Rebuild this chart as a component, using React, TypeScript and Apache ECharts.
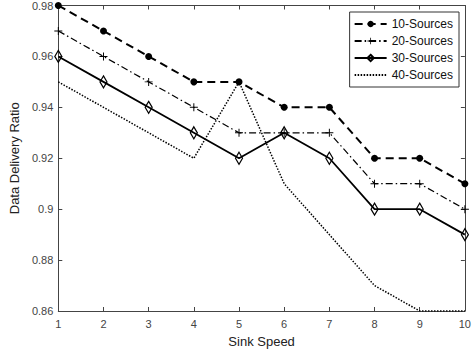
import React, { useEffect, useRef } from "react";
import * as echarts from "echarts";

const sinkSpeed = [1, 2, 3, 4, 5, 6, 7, 8, 9, 10];
const seriesNames = ["10-Sources", "20-Sources", "30-Sources", "40-Sources"];
const src10 = [0.98, 0.97, 0.96, 0.95, 0.95, 0.94, 0.94, 0.92, 0.92, 0.91];
const src20 = [0.97, 0.96, 0.95, 0.94, 0.93, 0.93, 0.93, 0.91, 0.91, 0.9];
const src30 = [0.96, 0.95, 0.94, 0.93, 0.92, 0.93, 0.92, 0.9, 0.9, 0.89];
const src40 = [0.95, 0.94, 0.93, 0.92, 0.95, 0.91, 0.89, 0.87, 0.86, 0.86];
const yTicks = [0.86, 0.88, 0.9, 0.92, 0.94, 0.96, 0.98];

const FONT = "Liberation Sans, Arial, sans-serif";

export default function App() {
  const ref = useRef<HTMLDivElement>(null);
  useEffect(() => {
    if (!ref.current) return;
    const chart = echarts.init(ref.current, undefined, { renderer: "svg" });
    const pts = (arr: number[]) => sinkSpeed.map((x, i) => [x, arr[i]]);
    const axisLine = { show: true, lineStyle: { color: "#444", width: 1 } };
    const axisTick = { show: true, inside: true, length: 4, lineStyle: { color: "#444" } };
    chart.setOption({
      animation: false,
      backgroundColor: "#fff",
      textStyle: { fontFamily: FONT },
      grid: { left: 42, right: 6, top: 5, bottom: 36, containLabel: false },
      legend: {
        orient: "vertical",
        right: 15,
        top: 12,
        itemWidth: 32,
        itemHeight: 8,
        itemGap: 5,
        padding: [6, 6, 6, 4],
        backgroundColor: "#fff",
        borderColor: "#333",
        borderWidth: 1,
        borderRadius: 0,
        textStyle: { fontSize: 12, color: "#111", fontFamily: FONT },
        data: [
          seriesNames[0],
          seriesNames[1],
          seriesNames[2],
          { name: seriesNames[3], itemStyle: { opacity: 0 } },
        ],
      },
      xAxis: [
        {
          type: "value",
          min: 1,
          max: 10,
          interval: 1,
          name: "Sink Speed",
          nameLocation: "middle",
          nameGap: 24,
          nameTextStyle: { fontSize: 13, color: "#222", fontFamily: FONT },
          axisLine,
          axisTick,
          splitLine: { show: false },
          axisLabel: { fontSize: 11, color: "#444", margin: 7, fontFamily: FONT },
        },
        {
          type: "value",
          position: "top",
          min: 1,
          max: 10,
          interval: 1,
          axisLine,
          axisTick,
          splitLine: { show: false },
          axisLabel: { show: false },
        },
      ],
      yAxis: [
        {
          type: "value",
          min: yTicks[0],
          max: yTicks[yTicks.length - 1],
          interval: 0.02,
          name: "Data Delivery Ratio",
          nameLocation: "middle",
          nameGap: 33,
          nameTextStyle: { fontSize: 13, color: "#222", fontFamily: FONT },
          axisLine,
          axisTick,
          splitLine: { show: false },
          axisLabel: {
            fontSize: 11,
            color: "#444",
            margin: 5,
            fontFamily: FONT,
            formatter: (v: number) => String(+v.toFixed(2)),
          },
        },
        {
          type: "value",
          position: "right",
          min: yTicks[0],
          max: yTicks[yTicks.length - 1],
          interval: 0.02,
          axisLine,
          axisTick,
          splitLine: { show: false },
          axisLabel: { show: false },
        },
      ],
      series: [
        {
          name: seriesNames[0],
          type: "line",
          data: pts(src10),
          symbol: "circle",
          symbolSize: 7,
          itemStyle: { color: "#000" },
          lineStyle: { color: "#000", width: 2, type: [8, 5] },
        },
        {
          name: seriesNames[1],
          type: "line",
          data: pts(src20),
          symbol: "path://M-0.6,-5H0.6V-0.6H5V0.6H0.6V5H-0.6V0.6H-5V-0.6H-0.6Z",
          symbolSize: 8,
          itemStyle: { color: "#000" },
          lineStyle: { color: "#000", width: 1.2, type: [7, 3, 1.5, 3] },
        },
        {
          name: seriesNames[2],
          type: "line",
          data: pts(src30),
          symbol: "path://M0,-5L3,0L0,5L-3,0Z",
          symbolSize: [7, 12],
          symbolKeepAspect: false,
          itemStyle: { color: "rgba(255,255,255,0)", borderColor: "#000", borderWidth: 1.3 },
          lineStyle: { color: "#000", width: 1.8, type: "solid" },
        },
        {
          name: seriesNames[3],
          type: "line",
          data: pts(src40),
          symbol: "none",
          itemStyle: { color: "#000" },
          lineStyle: { color: "#000", width: 1.5, type: [1.5, 1.5] },
        },
      ],
    });
    return () => chart.dispose();
  }, []);
  return <div ref={ref} style={{ width: 474, height: 353, position: "absolute", left: 0, top: 0 }} />;
}
